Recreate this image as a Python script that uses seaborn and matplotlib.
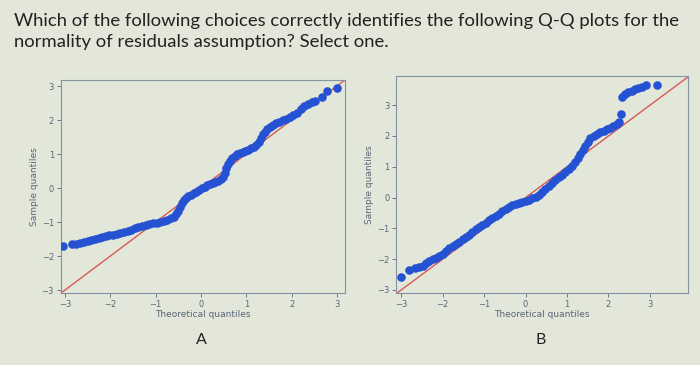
import matplotlib
matplotlib.use("Agg")
import matplotlib.pyplot as plt
import seaborn as sns
import pandas as pd

# Q-Q plot A: theoretical vs sample quantiles
a_theo = [-3.05, -2.85, -2.75, -2.66, -2.58, -2.5, -2.42, -2.34, -2.26, -2.18, -2.1, -2.02,
          -1.94, -1.86, -1.78, -1.7, -1.62, -1.54, -1.46, -1.38, -1.3, -1.22, -1.14, -1.06,
          -0.98, -0.9, -0.82, -0.74, -0.66, -0.6, -0.55, -0.5, -0.46, -0.42, -0.38, -0.33,
          -0.28, -0.22, -0.16, -0.1, -0.04, 0.02, 0.08, 0.14, 0.2, 0.26, 0.32, 0.38, 0.44,
          0.49, 0.53, 0.56, 0.59, 0.63, 0.68, 0.74, 0.8, 0.86, 0.92, 0.98, 1.04, 1.1, 1.16,
          1.22, 1.28, 1.33, 1.37, 1.41, 1.46, 1.52, 1.58, 1.65, 1.72, 1.8, 1.88, 1.96, 2.04,
          2.12, 2.2, 2.28, 2.36, 2.44, 2.52, 2.67, 2.78, 3.0]
a_samp = [-1.70, -1.65, -1.64, -1.62, -1.58, -1.55, -1.52, -1.49, -1.46, -1.44, -1.41, -1.39,
          -1.37, -1.35, -1.33, -1.30, -1.26, -1.22, -1.18, -1.14, -1.11, -1.08, -1.06, -1.04,
          -1.02, -1.00, -0.97, -0.93, -0.89, -0.84, -0.77, -0.68, -0.57, -0.45, -0.36, -0.29,
          -0.24, -0.20, -0.16, -0.11, -0.06, -0.01, 0.04, 0.08, 0.11, 0.14, 0.17, 0.21, 0.26,
          0.33, 0.45, 0.60, 0.72, 0.81, 0.88, 0.94, 0.99, 1.03, 1.07, 1.10, 1.13, 1.17, 1.21,
          1.27, 1.36, 1.48, 1.58, 1.66, 1.73, 1.80, 1.85, 1.90, 1.95, 2.00, 2.04, 2.08, 2.14,
          2.22, 2.32, 2.41, 2.48, 2.53, 2.56, 2.67, 2.86, 2.95]

# Q-Q plot B
b_theo = [-3.0, -2.8, -2.66, -2.56, -2.48, -2.4, -2.32, -2.24, -2.16, -2.08, -2.0, -1.92,
          -1.84, -1.76, -1.68, -1.6, -1.52, -1.44, -1.36, -1.28, -1.2, -1.12, -1.04, -0.96,
          -0.88, -0.8, -0.72, -0.64, -0.56, -0.48, -0.4, -0.32, -0.24, -0.16, -0.08, 0.0,
          0.08, 0.16, 0.24, 0.32, 0.4, 0.48, 0.56, 0.64, 0.72, 0.8, 0.88, 0.96, 1.04, 1.12,
          1.2, 1.26, 1.32, 1.38, 1.44, 1.5, 1.56, 1.64, 1.72, 1.8, 1.88, 1.96, 2.04, 2.12,
          2.2, 2.26, 2.29, 2.33, 2.4, 2.48, 2.56, 2.64, 2.72, 2.8, 2.9, 3.16]
b_samp = [-2.57, -2.35, -2.30, -2.26, -2.21, -2.12, -2.05, -2.00, -1.96, -1.90, -1.82, -1.72,
          -1.63, -1.57, -1.51, -1.45, -1.36, -1.28, -1.20, -1.11, -1.03, -0.95, -0.88, -0.81,
          -0.74, -0.67, -0.59, -0.52, -0.45, -0.38, -0.31, -0.25, -0.21, -0.18, -0.14, -0.10,
          -0.07, -0.03, 0.02, 0.09, 0.17, 0.27, 0.37, 0.46, 0.56, 0.66, 0.74, 0.84, 0.94, 1.04,
          1.16, 1.27, 1.40, 1.55, 1.69, 1.82, 1.92, 2.00, 2.06, 2.12, 2.17, 2.22, 2.27, 2.32,
          2.38, 2.45, 2.72, 3.25, 3.35, 3.42, 3.47, 3.51, 3.55, 3.58, 3.64, 3.65]

ticks = [-3, -2, -1, 0, 1, 2, 3]
panel_names = ["A", "B"]

bg = "#e3e7da"
dot_color = "#2452d2"
line_color = "#d65a55"
spine_color = "#8492a6"
label_color = "#5a6678"

sns.set_theme(style="white")
plt.rcParams["font.family"] = ["DejaVu Sans"]

fig = plt.figure(figsize=(7, 3.65), dpi=100, facecolor=bg)

fig.text(0.02, 0.965,
         "Which of the following choices correctly identifies the following Q-Q plots for the\n"
         "normality of residuals assumption? Select one.",
         ha="left", va="top", fontsize=13.3, color="#222222", family="Lato",
         linespacing=1.38)

panels = [
    (pd.DataFrame({"theo": a_theo, "samp": a_samp}), [0.087, 0.197, 0.406, 0.584],
     (-3.09, 3.18), (-3.09, 3.18)),
    (pd.DataFrame({"theo": b_theo, "samp": b_samp}), [0.566, 0.198, 0.417, 0.594],
     (-3.12, 3.92), (-3.09, 3.95)),
]

for (df, rect, xl, yl), name in zip(panels, panel_names):
    ax = fig.add_axes(rect)
    ax.set_facecolor(bg)
    sns.scatterplot(data=df, x="theo", y="samp", ax=ax, color=dot_color, s=38,
                    linewidth=0, zorder=3)
    ax.axline((0, 0), slope=1, color=line_color, lw=1.0, zorder=2)
    ax.set_xlim(*xl)
    ax.set_ylim(*yl)
    ax.set_xticks(ticks)
    ax.set_yticks(ticks)
    ax.tick_params(axis="both", labelsize=6, colors=label_color, length=3, width=0.6,
                   left=True, bottom=True, pad=2)
    for sp in ax.spines.values():
        sp.set_color(spine_color)
        sp.set_linewidth(0.8)
    ax.set_xlabel("Theoretical quantiles", fontsize=6.5, color=label_color, labelpad=1)
    ax.set_ylabel("Sample quantiles", fontsize=6.5, color=label_color, labelpad=2)
    fig.text(rect[0] + rect[2] / 2 - 0.002, 0.068, name, ha="center", va="center",
             fontsize=11.5, color="#222222", family="Lato")

fig.savefig("out.png", dpi=100, facecolor=bg)
